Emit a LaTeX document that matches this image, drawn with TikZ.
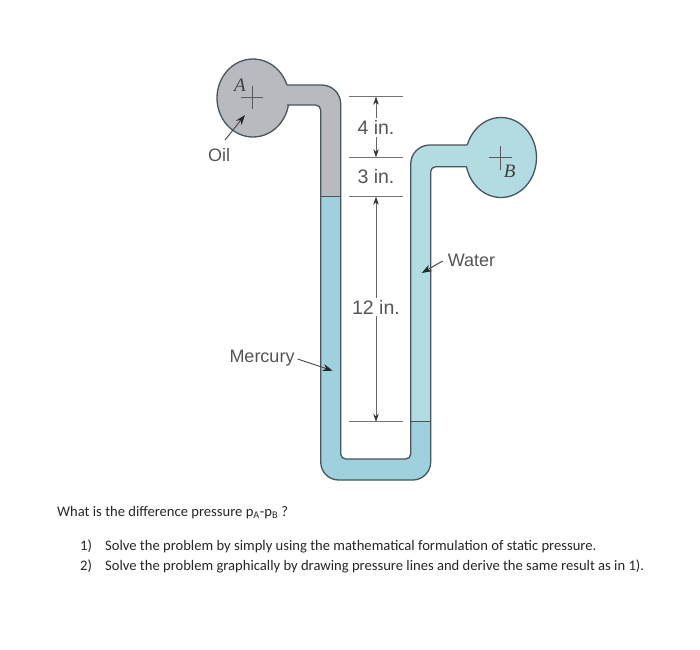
\documentclass[tikz,border=0pt]{standalone}
\usepackage{fontspec}
\setmainfont{Liberation Sans}
\newfontfamily\questionFont{Carlito}
\newfontfamily\bulbFont{Liberation Serif}
\usepackage{tikz}
\usetikzlibrary{arrows.meta}
\usetikzlibrary{positioning}
\definecolor{oilGray}{HTML}{B9BABF}
\definecolor{mercuryBlue}{HTML}{9FD0DD}
\definecolor{waterBlue}{HTML}{B3DBE2}
\definecolor{tubeEdge}{HTML}{47565C}
\definecolor{labelGray}{HTML}{555555}

\begin{document}
\begin{tikzpicture}[x = 1pt, y = -1pt,
                            tubeLine/.style = {draw = tubeEdge, line width = 1.3pt},
                            levelLine/.style = {draw = black!55, line width = 0.7pt},
                            crossLine/.style = {draw = black!65, line width = 0.7pt},
                            dimArrow/.style = {draw = black!60, line width = 0.7pt, -{Stealth[length = 8pt, width = 5.5pt, black!80]}},
                            pointArrow/.style = {draw = black!70, line width = 1pt, -{Stealth[length = 10pt, width = 7pt, black!85]}},
                            tubeLabel/.style = {font = \fontsize{18}{20}\selectfont, text = labelGray, inner sep = 0pt},
                            dimLabel/.style = {font = \fontsize{19.5}{21}\selectfont, text = labelGray, inner sep = 0pt},
                            bulbLabel/.style = {font = \fontsize{19}{20}\selectfont\bulbFont\itshape, text = black!75, inner sep = 0pt},
                            questionText/.style = {font = \fontsize{14.6}{16}\selectfont\questionFont, text = black!85, inner sep = 0pt, anchor = base west}]
            \useasboundingbox (0, 0) rectangle (700, 649);

            % bulbs first, the tube fills cover their outline at the joints
            \draw [tubeLine, fill = oilGray]  (253, 98) ellipse [x radius = 36, y radius = 39];
            \draw [tubeLine, fill = waterBlue] (501, 157.5) ellipse [x radius = 35.5, y radius = 40];

            % fluids
            \fill [oilGray] (280, 85) [rounded corners = 19pt] -- (340.7, 85) [sharp corners] -- (340.7, 196.7) -- (320.7, 196.7)
                [rounded corners = 5pt] -- (320.7, 105) [sharp corners] -- (280, 105) -- cycle;
            \fill [waterBlue] (410.7, 421.7) [rounded corners = 19pt] -- (410.7, 145) [sharp corners] -- (475, 145) -- (475, 166.7)
                [rounded corners = 5pt] -- (430.7, 166.7) [sharp corners] -- (430.7, 421.7) -- cycle;
            \fill [mercuryBlue] (320.7, 196.7) -- (340.7, 196.7) [rounded corners = 5pt] -- (340.7, 459) -- (410.7, 459) [sharp corners] -- (410.7, 421.7) -- (430.7, 421.7)
                [rounded corners = 18pt] -- (430.7, 480) -- (320.7, 480) [sharp corners] -- cycle;

            % tube outline
            \draw [tubeLine] (287, 105) [rounded corners = 5pt] -- (320.7, 105) [rounded corners = 18pt] -- (320.7, 480) -- (430.7, 480)
                [rounded corners = 5pt] -- (430.7, 166.7) [sharp corners] -- (466.5, 166.7);
            \draw [tubeLine] (287, 85) [rounded corners = 19pt] -- (340.7, 85) [rounded corners = 5pt] -- (340.7, 459) -- (410.7, 459)
                [rounded corners = 19pt] -- (410.7, 145) [sharp corners] -- (467.3, 145);
            \draw [tubeLine] (320.7, 196.7) -- (340.7, 196.7);
            \draw [tubeLine] (410.7, 421.7) -- (430.7, 421.7);

            % bulb centres
            \coordinate (centerA) at (252, 97);
            \coordinate (centerB) at (500, 157.5);
            \draw [crossLine] ([xshift = -11pt]centerA) -- ([xshift = 11pt]centerA);
            \draw [crossLine] ([yshift = 11.5pt]centerA) -- ([yshift = -11.5pt]centerA);
            \draw [crossLine] ([xshift = -11.5pt]centerB) -- ([xshift = 11.5pt]centerB);
            \draw [crossLine] ([yshift = 11.5pt]centerB) -- ([yshift = -12.5pt]centerB);
            \node [bulbLabel] (labelA) at (240, 85) {A};
            \node [bulbLabel] (labelB) at (509.7, 171.7) {B};

            % level lines
            \coordinate (level0) at (376, 96.7);
            \coordinate (level1) at (376, 157.3);
            \coordinate (level2) at (376, 196.7);
            \coordinate (level3) at (376, 421.7);
            \draw [levelLine] ([xshift = -27pt]level0) -- ([xshift = 27pt]level0);
            \draw [levelLine] ([xshift = -27pt]level1) -- ([xshift = 27pt]level1);
            \draw [levelLine] ([xshift = -27pt]level2) -- ([xshift = 27pt]level2);
            \draw [levelLine] ([xshift = -27pt]level3) -- ([xshift = 27pt]level3);

            % dimensions
            \node [dimLabel] (dim4) at (376, 127.5) {4 in.};
            \node [dimLabel] (dim3) at (376, 177) {3 in.};
            \node [dimLabel] (dim12) at (376, 307) {12 in.};
            \draw [dimArrow] ([yshift = 2pt]dim4.north) -- (level0);
            \draw [dimArrow] ([yshift = -2pt]dim4.south) -- (level1);
            \draw [dimArrow] ([yshift = 2pt]dim12.north) -- (level2);
            \draw [dimArrow] ([yshift = -2pt]dim12.south) -- (level3);

            % fluid names
            \node [tubeLabel] (oil) at (219, 155) {Oil};
            \node [tubeLabel] (water) at (471.5, 260) {Water};
            \node [tubeLabel] (mercury) at (262, 358) {Mercury};
            \coordinate (oilTip) at (245, 115);
            \coordinate (waterTip) at (421.7, 273);
            \coordinate (mercuryTip) at (332.7, 370.7);
            \draw [pointArrow] (225, 140) -- (oilTip);
            \draw [pointArrow] ([xshift = -5pt, yshift = -1pt]water.west) -- (waterTip);
            \draw [pointArrow] ([xshift = 3pt, yshift = -1pt]mercury.east) -- (mercuryTip);

            % question
            \node [questionText] (question) at (57, 516) {What is the difference pressure p\textsubscript{A}-p\textsubscript{B} ?};
            \node [questionText] (number1) at (80, 550) {1)};
            \node [questionText] (part1) at (105, 550) {Solve the problem by simply using the mathematical formulation of static pressure.};
            \node [questionText] (number2) at (80, 570) {2)};
            \node [questionText] (part2) at (105, 570) {Solve the problem graphically by drawing pressure lines and derive the same result as in 1).};
        \end{tikzpicture}
\end{document}
